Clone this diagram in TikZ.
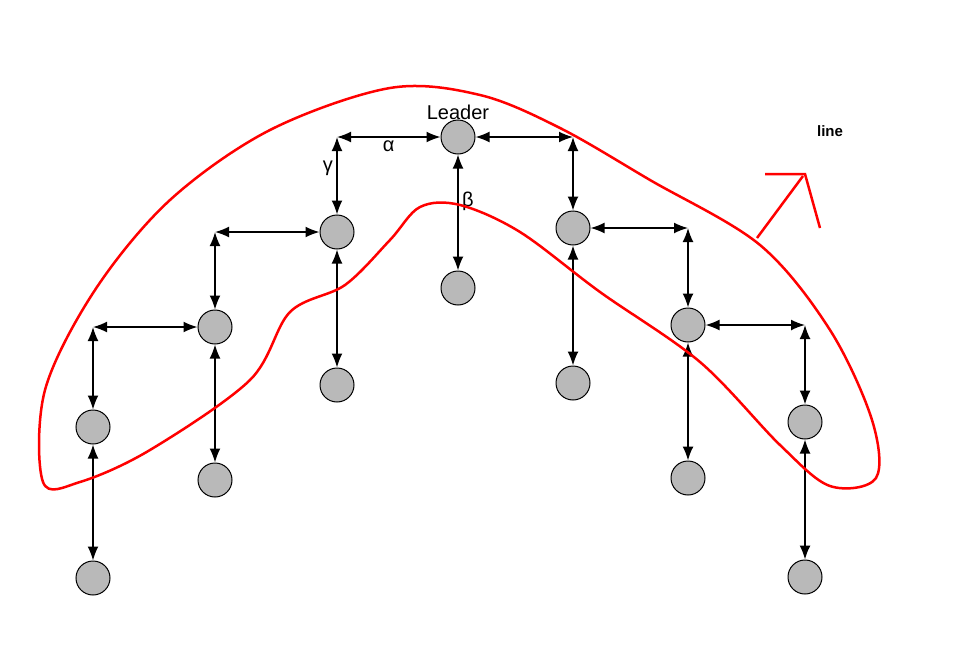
\documentclass[tikz,border=0pt]{standalone}
\usepackage{fontspec}
\setmainfont{Liberation Sans}
\usetikzlibrary{arrows.meta}
\begin{document}
\begin{tikzpicture}[x=1pt,y=-1pt,
  nd/.style={circle,draw=black,fill=gray!55,minimum size=34pt,inner sep=0pt,line width=1pt},
  link/.style={{Latex[length=14pt,width=11pt]}-{Latex[length=14pt,width=11pt]},line width=1.6pt},
  lbl/.style={font=\fontsize{20}{20}\selectfont}]
\useasboundingbox (0,0) rectangle (967,653);
\node[nd] (L) at (458,137) {};
\node[nd] (Lb) at (458,288) {};
\node[nd] (a1) at (337,232) {};
\node[nd] (a1b) at (337,385) {};
\node[nd] (a2) at (215,327) {};
\node[nd] (a2b) at (215,480) {};
\node[nd] (a3) at (93,427) {};
\node[nd] (a3b) at (93,578) {};
\node[nd] (b1) at (573,228) {};
\node[nd] (b1b) at (573,383) {};
\node[nd] (b2) at (688,325) {};
\node[nd] (b2b) at (688,478) {};
\node[nd] (b3) at (805,422) {};
\node[nd] (b3b) at (805,577) {};
\coordinate (ca1) at (337,137);
\coordinate (ca2) at (215,232);
\coordinate (ca3) at (93,327);
\coordinate (cb1) at (573,137);
\coordinate (cb2) at (688,228);
\coordinate (cb3) at (805,325);
\node[lbl,anchor=south] at (458,123) {Leader};
\draw[link] (L) -- (Lb) node[pos=0.4,right,lbl]{β};
\draw[link] (ca1) -- (L.west) node[midway,below,lbl]{α};
\draw[link] (ca1) -- (a1) node[pos=0.4,left,lbl]{γ};
\draw[link] (a1) -- (a1b);
\draw[link] (ca2) -- (a1.west);
\draw[link] (ca2) -- (a2);
\draw[link] (a2) -- (a2b);
\draw[link] (ca3) -- (a2.west);
\draw[link] (ca3) -- (a3);
\draw[link] (a3) -- (a3b);
\draw[link] (L.east) -- (cb1);
\draw[link] (cb1) -- (b1);
\draw[link] (b1) -- (b1b);
\draw[link] (b1.east) -- (cb2);
\draw[link] (cb2) -- (b2);
\draw[link] (b2) -- (b2b);
\draw[link] (b2.east) -- (cb3);
\draw[link] (cb3) -- (b3);
\draw[link] (b3) -- (b3b);
\draw[red,line width=2.5pt] plot[smooth cycle,tension=0.55] coordinates{
 (43,482) (45,390) (95,290) (170,200) (270,130) (390,88) (480,95) (560,128) (650,180)
 (760,245) (830,330) (872,420) (876,478) (830,486) (780,445) (700,362) (600,292)
 (520,232) (460,205) (420,207) (390,240) (345,285) (290,312) (250,380) (150,450) (80,482)};
\draw[red,line width=2.5pt] (757,238) -- (803,176);
\draw[red,line width=2.5pt] (765,174) -- (805,174) -- (820,228);
\node[font=\bfseries\fontsize{15}{15}\selectfont] (t) at (830,131) {line};
\end{tikzpicture}
\end{document}
